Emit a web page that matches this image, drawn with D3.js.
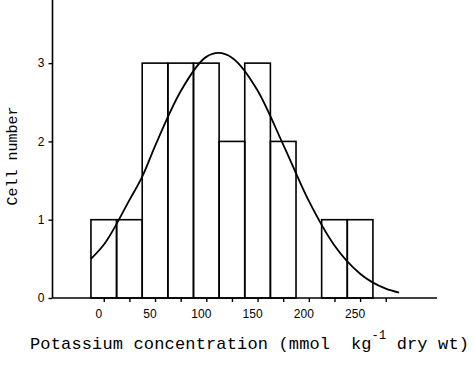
<!DOCTYPE html>
<html><head><meta charset="utf-8">
<script src="https://cdn.jsdelivr.net/npm/d3@7/dist/d3.min.js"></script>
<style>body{margin:0;background:#fff}svg{display:block}</style>
</head><body>
<script>
// Histogram bins (centre values, mmol/kg dry wt) and counts
const binCenters = [0, 25, 50, 75, 100, 125, 150, 175, 200, 225, 250];
const counts     = [1, 1, 3, 3, 3, 2, 3, 2, 0, 1, 1];
const binWidth = 25;
// Fitted curve points
const curveX = [-12.5, 0, 25, 37.5, 50, 75, 100, 112, 125, 150, 175, 200, 225, 250, 275, 288];
const curveY = [0.5, 0.68, 1.25, 1.55, 1.94, 2.64, 3.08, 3.13, 3.07, 2.65, 1.96, 1.24, 0.67, 0.31, 0.12, 0.07];
const xTickLabels = [0, 50, 100, 150, 200, 250];
const xMinorTicks = [0, 25, 50, 75, 100, 125, 150, 175, 200, 225, 250, 275];
const yTicks = [0, 1, 2, 3];

const W = 474, H = 366;
const svg = d3.select("body").append("svg").attr("width", W).attr("height", H);

const x = d3.scaleLinear().domain([-50, 325]).range([52.5, 437]);
const y = d3.scaleLinear().domain([0, 3.8]).range([298, 0.5]);

// bars
svg.append("g").selectAll("rect")
  .data(binCenters.map((c, i) => ({c, n: counts[i]})).filter(d => d.n > 0))
  .enter().append("rect")
  .attr("x", d => x(d.c - binWidth / 2))
  .attr("width", d => x(d.c + binWidth / 2) - x(d.c - binWidth / 2))
  .attr("y", d => y(d.n))
  .attr("height", d => y(0) - y(d.n))
  .attr("fill", "none").attr("stroke", "#000").attr("stroke-width", 1.6);

// curve
const line = d3.line().x(d => x(d[0])).y(d => y(d[1])).curve(d3.curveMonotoneX);
svg.append("path").datum(curveX.map((v, i) => [v, curveY[i]]))
  .attr("d", line).attr("fill", "none").attr("stroke", "#000").attr("stroke-width", 1.8);

// x axis
const xAxis = d3.axisBottom(x).tickValues(xMinorTicks).tickSize(4).tickFormat("");
const gx = svg.append("g").attr("transform", `translate(0,${y(0)})`).call(xAxis);
gx.select(".domain").attr("d", `M${x(-50)},0H${x(325)}`).attr("stroke-width", 1.6);
gx.selectAll(".tick line").attr("stroke-width", 1.4);
svg.append("g").selectAll("text").data(xTickLabels).enter().append("text")
  .attr("x", d => x(d) - 5).attr("y", 318)
  .attr("text-anchor", "middle")
  .attr("font-family", "Arial, 'Liberation Sans', sans-serif").attr("font-size", 12)
  .text(d => d);

// y axis
const yAxis = d3.axisLeft(y).tickValues(yTicks).tickSize(4).tickFormat(d3.format("d")).tickPadding(4);
const gy = svg.append("g").attr("transform", `translate(${x(-50)},0)`).call(yAxis);
gy.select(".domain").attr("d", `M0,${y(0)}V0`).attr("stroke-width", 1.6);
gy.selectAll(".tick line").attr("stroke-width", 1.4);
gy.selectAll(".tick text").attr("font-family", "Arial, 'Liberation Sans', sans-serif").attr("font-size", 12).attr("fill", "#000");

// axis titles
const mono = "'Courier New', Courier, 'Liberation Mono', monospace";
svg.append("text")
  .attr("transform", "translate(17,156) rotate(-90)")
  .attr("text-anchor", "middle")
  .attr("font-family", mono).attr("font-size", 15).attr("fill", "#000")
  .text("Cell number");

const xl = svg.append("text").attr("x", 30).attr("y", 349)
  .attr("font-family", mono).attr("font-size", 17).attr("fill", "#000")
  .attr("letter-spacing", 0.15)
  .attr("xml:space", "preserve");
xl.append("tspan").text("Potassium concentration (mmol  kg");
xl.append("tspan").attr("dy", -10).attr("font-size", 12).text("-1");
xl.append("tspan").attr("dy", 10).text(" dry wt)");
</script>
</body></html>
